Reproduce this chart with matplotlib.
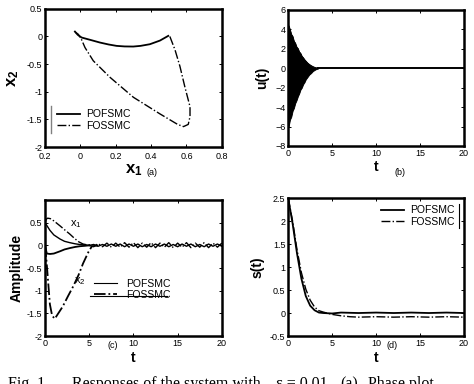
import matplotlib
matplotlib.use("Agg")
import matplotlib.pyplot as plt

plt.rcParams['font.family'] = ['Liberation Sans', 'DejaVu Sans']
plt.rcParams['mathtext.fontset'] = 'custom'
plt.rcParams['mathtext.rm'] = 'Liberation Sans'
plt.rcParams['mathtext.bf'] = 'Liberation Sans:bold'
plt.rcParams['mathtext.it'] = 'Liberation Sans:italic'

# ---------------- data ----------------
# (a) phase plot  x1 vs x2
pof_x1 = [0.497, 0.45, 0.393, 0.34, 0.299, 0.25, 0.205, 0.16, 0.111, 0.06, 0.007, -0.015, -0.031]
pof_x2 = [0.011, -0.074, -0.14, -0.17, -0.182, -0.18, -0.17, -0.145, -0.11, -0.065, -0.019, 0.03, 0.089]
fos_x1 = [0.506, 0.535, 0.563, 0.59, 0.62, 0.62, 0.61, 0.583, 0.55, 0.45, 0.30, 0.168, 0.073, 0.026, 0.007, -0.012, -0.03]
fos_x2 = [0.0, -0.24, -0.54, -0.9, -1.27, -1.45, -1.59, -1.63, -1.59, -1.40, -1.10, -0.74, -0.44, -0.2, -0.06, 0.04, 0.08]

# (b) control u(t): envelope of the chattering transient, then steady part
u_t = [0.0, 0.05, 0.2, 0.35, 0.5, 0.65, 0.8, 0.95, 1.1, 1.25, 1.4, 1.55, 1.7, 1.85, 2.0, 2.2, 2.4, 2.6, 2.8, 3.0, 3.2, 3.4]
u_upper = [0.0, 4.4, 4.0, 3.5, 3.3, 2.8, 2.6, 2.2, 2.05, 1.7, 1.55, 1.25, 1.1, 0.9, 0.75, 0.55, 0.4, 0.28, 0.18, 0.1, 0.05, 0.03]
u_lower = [0.0, -6.0, -5.3, -5.0, -4.4, -4.1, -3.6, -3.3, -2.9, -2.6, -2.2, -2.0, -1.65, -1.45, -1.15, -0.9, -0.65, -0.5, -0.3, -0.18, -0.08, -0.03]
u_ss_t = [3.4, 20.0]
u_ss = [0.0, 0.0]

# (c) states vs time
t_pof = [0, 0.2, 0.56, 1.0, 1.7, 2.2, 2.8, 3.4, 3.9, 4.5, 5.0]
x1_pof = [0.5, 0.44, 0.33, 0.23, 0.14, 0.09, 0.06, 0.035, 0.02, 0.01, 0.0]
x2_pof = [0.0, -0.18, -0.19, -0.18, -0.13, -0.09, -0.06, -0.035, -0.02, -0.01, 0.0]
t_fos = [0, 0.15, 0.3, 0.6, 1.0, 1.7, 2.3, 2.8, 3.3, 3.8, 4.3, 4.8, 5.3]
x1_fos = [0.5, 0.58, 0.6, 0.59, 0.54, 0.43, 0.33, 0.25, 0.16, 0.08, 0.03, 0.01, 0.0]
t_fos2 = [0, 0.15, 0.35, 0.55, 0.8, 1.1, 1.5, 2.0, 2.6, 3.2, 3.8, 4.3, 4.9, 5.3, 6.0]
x2_fos = [0.0, -0.3, -0.8, -1.3, -1.55, -1.62, -1.5, -1.35, -1.12, -0.9, -0.65, -0.4, -0.15, -0.02, 0.0]
# steady-state chatter of the states
t_ch = [5.0, 5.5, 6.0, 6.5, 7.0, 7.5, 8.0, 8.5, 9.0, 9.5, 10.0, 10.5, 11.0, 11.5, 12.0, 12.5, 13.0, 13.5,
        14.0, 14.5, 15.0, 15.5, 16.0, 16.5, 17.0, 17.5, 18.0, 18.5, 19.0, 19.5, 20.0]
ch_pof = [0.0, 0.02, -0.02, 0.02, -0.02, 0.03, -0.02, 0.03, -0.03, 0.03, -0.02, 0.03, -0.03, 0.02, -0.03,
          0.03, -0.02, 0.03, -0.03, 0.02, -0.03, 0.03, -0.02, 0.03, -0.03, 0.02, -0.03, 0.03, -0.02, 0.03, -0.02]
ch_fos = [0.0, -0.03, 0.04, -0.03, 0.05, -0.04, 0.05, -0.04, 0.06, -0.04, 0.06, -0.05, 0.05, -0.04, 0.06,
          -0.05, 0.05, -0.04, 0.06, -0.05, 0.05, -0.04, 0.06, -0.05, 0.05, -0.04, 0.06, -0.05, 0.05, -0.04, 0.05]

# (d) sliding variable s(t)
s_t_pof = [0, 0.5, 1.0, 1.5, 2.0, 2.5, 3.0, 3.5, 4.0, 5.0, 6.0, 8.0, 10.0, 12.0, 14.0, 16.0, 18.0, 20.0]
s_pof = [2.5, 1.95, 1.3, 0.75, 0.37, 0.16, 0.06, 0.01, 0.0, -0.01, 0.01, 0.0, 0.01, 0.0, 0.01, 0.0, 0.01, 0.0]
s_t_fos = [0, 0.5, 1.0, 1.5, 2.0, 2.5, 3.0, 3.5, 4.0, 5.0, 6.0, 7.0, 8.0, 10.0, 12.0, 14.0, 16.0, 18.0, 20.0]
s_fos = [2.5, 2.0, 1.38, 0.88, 0.52, 0.28, 0.13, 0.05, 0.02, -0.03, -0.06, -0.08, -0.09, -0.08, -0.09, -0.08, -0.09, -0.08, -0.09]

# caption pieces (left edge in pixels) -- the caption is cut off by the image border
caption_parts = ['Fig. 1.', 'Responses of the system with', '\u03b5 = 0.01.', '(a)', 'Phase plot']
caption_x = [8, 72, 276, 340, 368]

# ---------------- figure ----------------
fig = plt.figure(figsize=(4.74, 3.84), dpi=100)
ax_a = fig.add_axes([0.095, 0.617, 0.373, 0.360])
ax_b = fig.add_axes([0.608, 0.620, 0.371, 0.354])
ax_c = fig.add_axes([0.095, 0.125, 0.373, 0.354])
ax_d = fig.add_axes([0.608, 0.125, 0.371, 0.359])

for ax in (ax_a, ax_b, ax_c, ax_d):
    for sp in ax.spines.values():
        sp.set_linewidth(1.8)
    ax.tick_params(direction='in', length=2.5, width=0.7, top=True, right=True,
                   labelsize=6.5, pad=2)

lab = dict(fontsize=10, fontweight='bold')

# (a)
ax_a.plot(pof_x1, pof_x2, color='black', lw=1.3, label='POFSMC')
ax_a.plot(fos_x1, fos_x2, color='black', lw=1.0, ls='-.', label='FOSSMC')
ax_a.set_xlim(-0.2, 0.8)
ax_a.set_ylim(-2, 0.5)
ax_a.set_xticks([-0.2, 0, 0.2, 0.4, 0.6, 0.8])
ax_a.set_xticklabels(['0.2', '0', '0.2', '0.4', '0.6', '0.8'])
ax_a.set_yticks([-2, -1.5, -1, -0.5, 0, 0.5])
ax_a.set_yticklabels(['-2', '-1.5', '-1', '-0.5', '0', '0.5'])
ax_a.tick_params(axis='x', pad=3.5)
ax_a.set_xlabel(r'$\mathbf{x_1}$', fontsize=12, labelpad=1)
ax_a.set_ylabel(r'$\mathbf{x_2}$', fontsize=12, labelpad=4)
ax_a.legend(loc='center left', bbox_to_anchor=(0.04, 0.195), frameon=False, fontsize=7.5,
            handlelength=2.2, labelspacing=0.15, handletextpad=0.6, borderpad=0)
ax_a.plot([0.032, 0.032], [0.10, 0.30], transform=ax_a.transAxes, color='gray', lw=1.0)
fig.text(152 / 474, 1 - 172 / 384, '(a)', fontsize=6.5, ha='center', va='center')

# (b)
ax_b.fill_between(u_t, u_lower, u_upper, color='black', lw=0.6)
ax_b.plot(u_t, u_upper, color='black', lw=0.6)
ax_b.plot(u_t, u_lower, color='black', lw=0.6)
ax_b.plot(u_ss_t, u_ss, color='black', lw=1.4)
ax_b.set_xlim(0, 20)
ax_b.set_ylim(-8, 6)
ax_b.set_xticks([0, 5, 10, 15, 20])
ax_b.set_yticks([-8, -6, -4, -2, 0, 2, 4, 6])
ax_b.set_xlabel('t', **lab, labelpad=2)
ax_b.set_ylabel('u(t)', **lab, labelpad=4)
fig.text(400 / 474, 1 - 173 / 384, '(b)', fontsize=6.5, ha='center', va='center')

# (c)
ax_c.plot(t_pof, x1_pof, color='black', lw=1.0)
ax_c.plot(t_pof, x2_pof, color='black', lw=1.3)
ax_c.plot(t_fos, x1_fos, color='black', lw=1.0, ls='-.')
ax_c.plot(t_fos2, x2_fos, color='black', lw=1.3, ls='-.')
ax_c.plot(t_ch, ch_pof, color='black', lw=1.0)
ax_c.plot(t_ch, ch_fos, color='black', lw=1.0, ls='-.')
ax_c.plot([], [], color='black', lw=0.8, label='POFSMC')
ax_c.plot([], [], color='black', lw=1.3, ls='-.', label='FOSSMC')
ax_c.set_xlim(0, 20)
ax_c.set_ylim(-2, 1)
ax_c.set_xticks([0, 5, 10, 15, 20])
ax_c.set_yticks([-2, -1.5, -1, -0.5, 0, 0.5, 1])
ax_c.set_yticklabels(['-2', '-1.5', '-1', '-0.5', '0', '0.5', ''])
ax_c.set_xlabel('t', **lab, labelpad=2)
ax_c.set_ylabel('Amplitude', **lab, labelpad=2)
ax_c.text(3.5, 0.48, r'$\mathregular{x_1}$', fontsize=8, ha='center', va='center')
ax_c.text(3.9, -0.78, r'$\mathregular{x_2}$', fontsize=8, ha='center', va='center')
ax_c.legend(loc='center left', bbox_to_anchor=(0.25, 0.345), frameon=False, fontsize=7.5,
            handlelength=2.2, labelspacing=0.1, handletextpad=0.8, borderpad=0)
ax_c.plot([0.254, 0.69], [0.294, 0.294], transform=ax_c.transAxes, color='black', lw=0.8)
fig.text(113 / 474, 1 - 346 / 384, '(c)', fontsize=6.5, ha='center', va='center')

# (d)
ax_d.plot(s_t_pof, s_pof, color='black', lw=1.3, label='POFSMC')
ax_d.plot(s_t_fos, s_fos, color='black', lw=1.0, ls='-.', label='FOSSMC')
ax_d.set_xlim(0, 20)
ax_d.set_ylim(-0.5, 2.5)
ax_d.set_xticks([0, 5, 10, 15, 20])
ax_d.set_yticks([-0.5, 0, 0.5, 1, 1.5, 2, 2.5])
ax_d.set_yticklabels(['-0.5', '0', '0.5', '1', '1.5', '2', '2.5'])
ax_d.set_xlabel('t', **lab, labelpad=2)
ax_d.set_ylabel('s(t)', **lab, labelpad=4)
ax_d.legend(loc='center left', bbox_to_anchor=(0.5, 0.87), frameon=False, fontsize=7.5,
            handlelength=2.2, labelspacing=0.15, handletextpad=0.6, borderpad=0)
ax_d.plot([0.97, 0.97], [0.78, 0.96], transform=ax_d.transAxes, color='black', lw=0.8)
fig.text(392 / 474, 1 - 346 / 384, '(d)', fontsize=6.5, ha='center', va='center')

# caption (cut off at the bottom of the image, as in the reference)
for part, px in zip(caption_parts, caption_x):
    fig.text(px / 474, 1 - 376 / 384, part, family=['Liberation Serif', 'DejaVu Serif'],
             fontsize=11.5, ha='left', va='top')

fig.savefig('out.png', dpi=100)
